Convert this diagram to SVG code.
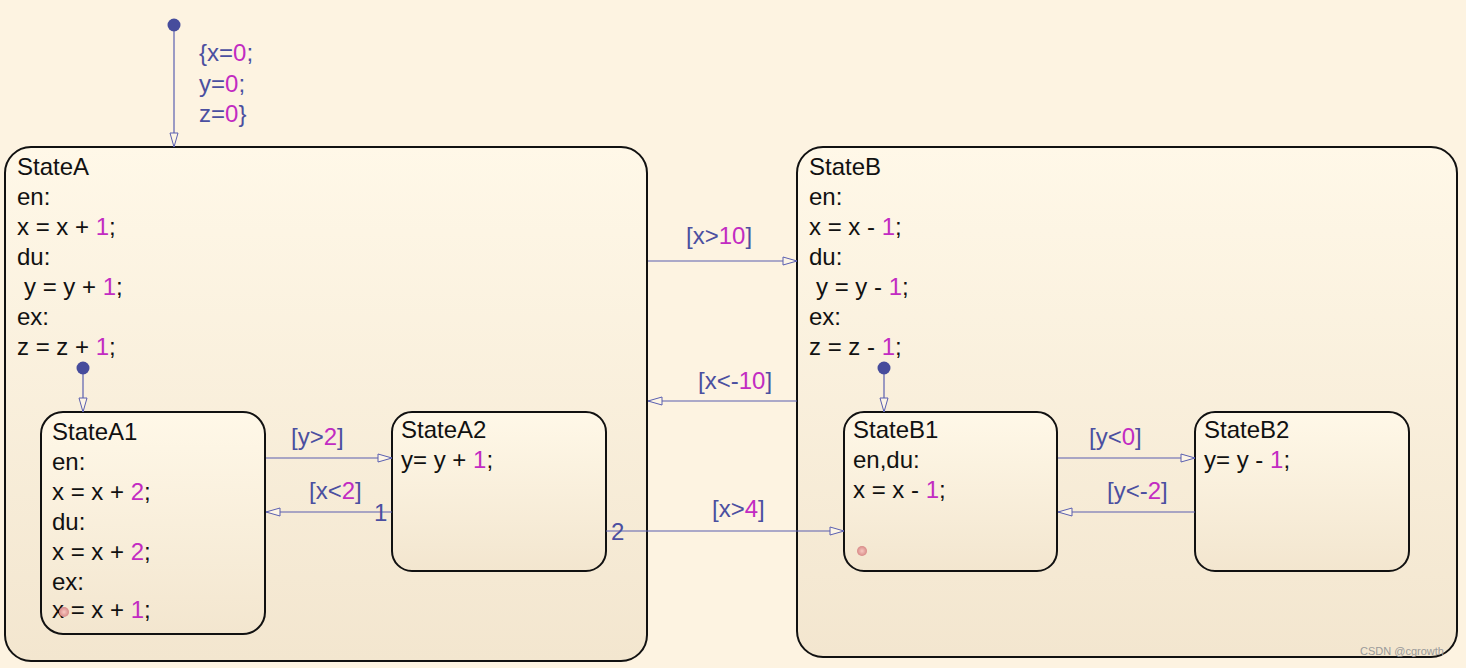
<svg xmlns="http://www.w3.org/2000/svg" width="1466" height="668" viewBox="0 0 1466 668">
<defs>
<linearGradient id="g" x1="0" y1="0" x2="0" y2="1"><stop offset="0" stop-color="#fff8e8"/><stop offset="1" stop-color="#f3e6cf"/></linearGradient>
<marker id="ar" markerWidth="16" markerHeight="10" refX="15" refY="5" orient="auto" markerUnits="userSpaceOnUse"><path d="M1,1 L15,5 L1,9 Z" fill="#fdf5e6" stroke="#5a5fb0" stroke-width="1"/></marker>
<radialGradient id="pk"><stop offset="0" stop-color="#f8c8c0"/><stop offset="1" stop-color="#d88a88"/></radialGradient>
</defs>
<style>
text{font-family:"Liberation Sans",Arial,sans-serif;font-size:24px;fill:#111}
.st{fill:url(#g);stroke:#111;stroke-width:2}
.n{fill:#c22bc2}
.lb{fill:#4b4fa0}
.c{stroke:#5a5fb0;stroke-width:1.2;fill:none;marker-end:url(#ar)}
.d{fill:#464c9c}
</style>
<rect width="1466" height="668" fill="#fdf3e1"/>
<g id="StateA">
<rect class="st" x="5" y="147" width="642" height="514" rx="26"/>
<text x="17" y="175">StateA</text>
<text x="17" y="205">en:</text>
<text x="17" y="235">x = x + <tspan class="n">1</tspan>;</text>
<text x="17" y="265">du:</text>
<text x="24" y="295">y = y + <tspan class="n">1</tspan>;</text>
<text x="17" y="325">ex:</text>
<text x="17" y="355">z = z + <tspan class="n">1</tspan>;</text>
</g>
<g id="StateB">
<rect class="st" x="797" y="147" width="660" height="510" rx="26"/>
<text x="809" y="175">StateB</text>
<text x="809" y="205">en:</text>
<text x="809" y="235">x = x - <tspan class="n">1</tspan>;</text>
<text x="809" y="265">du:</text>
<text x="816" y="295">y = y - <tspan class="n">1</tspan>;</text>
<text x="809" y="325">ex:</text>
<text x="809" y="355">z = z - <tspan class="n">1</tspan>;</text>
</g>
<g id="StateA1">
<rect class="st" x="41" y="412" width="224" height="222" rx="22"/>
<text x="52" y="440">StateA1</text>
<text x="52" y="470">en:</text>
<text x="52" y="500">x = x + <tspan class="n">2</tspan>;</text>
<text x="52" y="530">du:</text>
<text x="52" y="560">x = x + <tspan class="n">2</tspan>;</text>
<text x="52" y="590">ex:</text>
<text x="52" y="618">x = x + <tspan class="n">1</tspan>;</text>
<circle cx="64" cy="612" r="5" fill="url(#pk)"/>
</g>
<g id="StateA2">
<rect class="st" x="392" y="412" width="214" height="159" rx="20"/>
<text x="401" y="438">StateA2</text>
<text x="401" y="468">y= y + <tspan class="n">1</tspan>;</text>
</g>
<g id="StateB1">
<rect class="st" x="844" y="412" width="213" height="159" rx="20"/>
<text x="853" y="438">StateB1</text>
<text x="853" y="468">en,du:</text>
<text x="853" y="498">x = x - <tspan class="n">1</tspan>;</text>
<circle cx="862" cy="551" r="5" fill="url(#pk)"/>
</g>
<g id="StateB2">
<rect class="st" x="1195" y="412" width="214" height="159" rx="20"/>
<text x="1204" y="438">StateB2</text>
<text x="1204" y="468">y= y - <tspan class="n">1</tspan>;</text>
</g>
<g id="connectors">
<circle class="d" cx="174" cy="25" r="6.5"/>
<path class="c" d="M174,31 V147"/>
<text class="lb" x="199" y="61">{x=<tspan class="n">0</tspan>;</text>
<text class="lb" x="199" y="92">y=<tspan class="n">0</tspan>;</text>
<text class="lb" x="199" y="122">z=<tspan class="n">0</tspan>}</text>
<circle class="d" cx="83" cy="368" r="6.5"/>
<path class="c" d="M83,374 V412"/>
<circle class="d" cx="884" cy="368" r="6.5"/>
<path class="c" d="M884,374 V412"/>
<path class="c" d="M648,261 H797"/>
<text class="lb" x="686" y="244">[x&gt;<tspan class="n">10</tspan>]</text>
<path class="c" d="M797,401 H648"/>
<text class="lb" x="698" y="389">[x&lt;-<tspan class="n">10</tspan>]</text>
<path class="c" d="M266,458 H392"/>
<text class="lb" x="291" y="445">[y&gt;<tspan class="n">2</tspan>]</text>
<path class="c" d="M392,512 H266"/>
<text class="lb" x="309" y="499">[x&lt;<tspan class="n">2</tspan>]</text>
<text class="lb" x="374" y="521">1</text>
<path class="c" d="M606,531 H844"/>
<text class="lb" x="712" y="517">[x&gt;<tspan class="n">4</tspan>]</text>
<text class="lb" x="611" y="540">2</text>
<path class="c" d="M1058,458 H1195"/>
<text class="lb" x="1089" y="445">[y&lt;<tspan class="n">0</tspan>]</text>
<path class="c" d="M1195,512 H1058"/>
<text class="lb" x="1107" y="499">[y&lt;-<tspan class="n">2</tspan>]</text>
</g>
<text x="1360" y="655" style="font-size:11px;fill:#9a9a9a">CSDN @cgrowth</text>
</svg>
